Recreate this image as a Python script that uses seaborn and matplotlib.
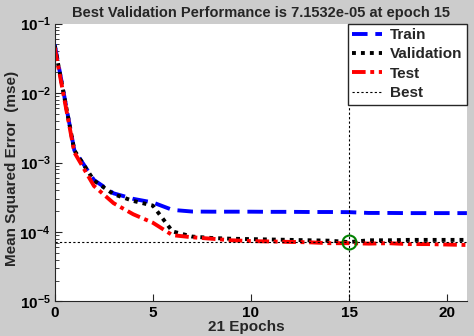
import numpy as np
import pandas as pd
import matplotlib
matplotlib.use("Agg")
import matplotlib.pyplot as plt
import seaborn as sns
from matplotlib.ticker import LogLocator, FixedLocator

sns.set_theme(style="white")
plt.rcParams['font.family'] = ['Liberation Sans', 'DejaVu Sans']
plt.rcParams['font.weight'] = 'bold'
plt.rcParams['mathtext.fontset'] = 'custom'
plt.rcParams['mathtext.rm'] = 'Liberation Sans:bold'
plt.rcParams['mathtext.bf'] = 'Liberation Sans:bold'
plt.rcParams['mathtext.default'] = 'bf'

epochs = list(range(22))
train = [5.0e-2, 1.5e-3, 5.6e-4, 3.6e-4, 3.0e-4, 2.66e-4, 2.08e-4, 1.97e-4,
         1.96e-4, 1.96e-4, 1.96e-4, 1.95e-4, 1.95e-4, 1.94e-4, 1.94e-4, 1.93e-4,
         1.88e-4, 1.88e-4, 1.87e-4, 1.87e-4, 1.87e-4, 1.87e-4]
validation = [4.8e-2, 1.5e-3, 5.5e-4, 3.5e-4, 2.8e-4, 2.4e-4, 1.02e-4, 8.6e-5,
              8.2e-5, 8.0e-5, 7.9e-5, 7.8e-5, 7.7e-5, 7.6e-5, 7.5e-5, 7.1532e-05,
              7.6e-5, 7.6e-5, 7.7e-5, 7.7e-5, 7.7e-5, 7.7e-5]
test = [4.5e-2, 1.4e-3, 4.6e-4, 2.6e-4, 1.8e-4, 1.36e-4, 9.0e-5, 8.4e-5,
        8.0e-5, 7.6e-5, 7.4e-5, 7.3e-5, 7.2e-5, 7.1e-5, 6.9e-5, 6.9e-5,
        6.8e-5, 6.9e-5, 6.7e-5, 6.7e-5, 6.6e-5, 6.5e-5]
best_epoch = 15
best_perf = 7.1532e-05
xticks = [0, 5, 10, 15, 20]
yticks = [1e-5, 1e-4, 1e-3, 1e-2, 1e-1]
ytick_labels = [r'$10^{-5}$', r'$10^{-4}$', r'$10^{-3}$', r'$10^{-2}$', r'$10^{-1}$']

df = pd.DataFrame({"epoch": epochs, "train": train, "validation": validation, "test": test})

fig = plt.figure(figsize=(4.74, 3.36), dpi=100, facecolor='#cccccc')
ax = fig.add_axes([0.1154, 0.1027, 0.8696, 0.8273])
ax.set_facecolor('white')

sns.lineplot(data=df, x="epoch", y="train", ax=ax, color='#0000ff', lw=2.8,
             linestyle=(0, (4, 2)), label='Train')
sns.lineplot(data=df, x="epoch", y="validation", ax=ax, color='black', lw=2.8,
             linestyle=(0, (1, 1.3)), label='Validation')
sns.lineplot(data=df, x="epoch", y="test", ax=ax, color='#ff0000', lw=2.8,
             linestyle=(0, (3.5, 1.2, 1, 1.2)), label='Test')
ax.axhline(best_perf, color='black', lw=0.8, linestyle=(0, (2, 2)), label='Best')
ax.axvline(best_epoch, color='black', lw=0.8, linestyle=(0, (2, 2)))
ax.plot([best_epoch], [best_perf], marker='o', markersize=10, markerfacecolor='none',
        markeredgecolor='#008000', markeredgewidth=1.5, linestyle='none')

ax.set_yscale('log')
ax.set_xlim(0, 21)
ax.set_ylim(1e-5, 1e-1)
ax.xaxis.set_major_locator(FixedLocator(xticks))
ax.set_xticklabels([str(t) for t in xticks], fontsize=11, fontweight='bold')
ax.yaxis.set_major_locator(FixedLocator(yticks))
ax.set_yticklabels(ytick_labels, fontsize=11)
for lbl in ax.get_yticklabels():
    lbl.set_verticalalignment('center_baseline')
ax.yaxis.set_minor_locator(LogLocator(base=10, subs=np.arange(2, 10)))
ax.tick_params(axis='both', which='major', direction='in', length=5, width=0.8,
               colors='#262626', labelcolor='black', pad=3, left=True, bottom=True)
ax.tick_params(axis='y', which='minor', direction='in', length=3, width=0.6,
               colors='#262626', left=True)

for s in ['top', 'right']:
    ax.spines[s].set_visible(False)
for s in ['left', 'bottom']:
    ax.spines[s].set_color('#262626')
    ax.spines[s].set_linewidth(0.8)

ax.set_title('Best Validation Performance is 7.1532e-05 at epoch 15',
             fontsize=10.5, fontweight='bold', pad=5)
ax.set_xlabel('21 Epochs', fontsize=11, fontweight='bold', labelpad=1)
ax.xaxis.set_label_coords(0.466, -0.065)
ax.set_ylabel('Mean Squared Error  (mse)', fontsize=11, fontweight='bold')
ax.yaxis.set_label_coords(-0.087, 0.478)

leg = ax.legend(loc='upper right', borderaxespad=0, fancybox=False, framealpha=1,
                edgecolor='#262626', prop={'weight': 'bold', 'size': 11},
                handlelength=1.95, handletextpad=0.5, labelspacing=0.35,
                borderpad=0.3)
leg.get_frame().set_linewidth(1.0)

fig.savefig('out.png', dpi=100, facecolor=fig.get_facecolor())
